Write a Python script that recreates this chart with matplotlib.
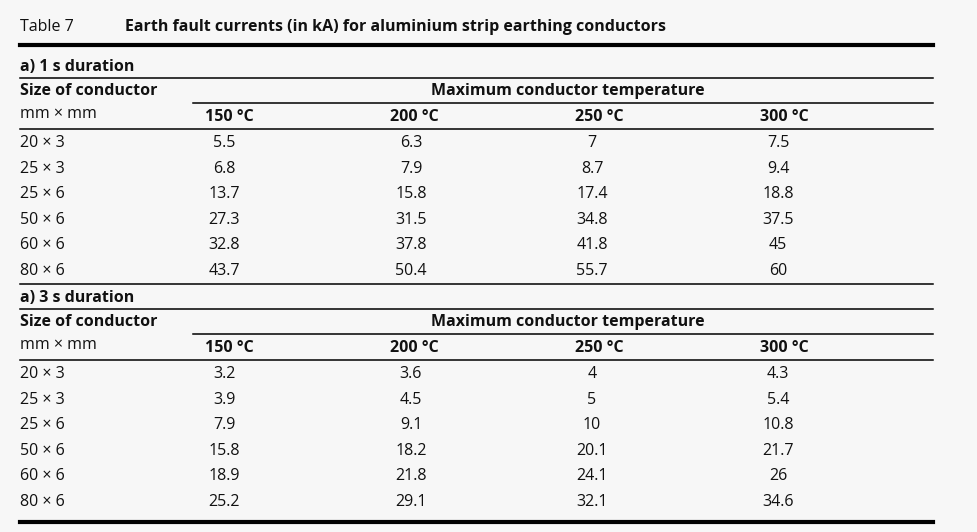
import matplotlib
matplotlib.use("Agg")
import matplotlib.pyplot as plt

sizes = ["20 × 3", "25 × 3", "25 × 6", "50 × 6", "60 × 6", "80 × 6"]
temps = ["150 °C", "200 °C", "250 °C", "300 °C"]
vals_1s = [["5.5", "6.3", "7", "7.5"],
           ["6.8", "7.9", "8.7", "9.4"],
           ["13.7", "15.8", "17.4", "18.8"],
           ["27.3", "31.5", "34.8", "37.5"],
           ["32.8", "37.8", "41.8", "45"],
           ["43.7", "50.4", "55.7", "60"]]
vals_3s = [["3.2", "3.6", "4", "4.3"],
           ["3.9", "4.5", "5", "5.4"],
           ["7.9", "9.1", "10", "10.8"],
           ["15.8", "18.2", "20.1", "21.7"],
           ["18.9", "21.8", "24.1", "26"],
           ["25.2", "29.1", "32.1", "34.6"]]

plt.rcParams['font.family'] = ['Open Sans', 'DejaVu Sans']
bg = "#f7f7f7"
fig = plt.figure(figsize=(9.78, 5.32), dpi=100, facecolor=bg)
ax = fig.add_axes([0, 0, 1, 1])
ax.set_xlim(0, 978); ax.set_ylim(532, 0); ax.axis("off")
ax.set_facecolor(bg)

fs = 11.5
L, R = 20, 933
col_x = [205, 390, 575, 760]
col_c = [224, 411, 592, 778]

ax.text(L, 27, "Table 7", fontsize=fs, va="center", color="#111")
ax.text(125, 27, "Earth fault currents (in kA) for aluminium strip earthing conductors",
        fontsize=fs, va="center", fontweight="bold", color="#111")
ax.plot([L, R], [45, 45], color="black", lw=3)

def section(y0, label, data):
    ax.text(L, y0, label, fontsize=fs, va="center", fontweight="bold", color="#111")
    ax.plot([L, R], [y0 + 11, y0 + 11], color="black", lw=1.1)
    ax.text(L, y0 + 24, "Size of conductor", fontsize=fs, va="center", fontweight="bold", color="#111")
    ax.text(568, y0 + 24, "Maximum conductor temperature", fontsize=fs, va="center",
            ha="center", fontweight="bold", color="#111")
    ax.plot([193, R], [y0 + 36, y0 + 36], color="black", lw=1.1)
    ax.text(L, y0 + 47, "mm × mm", fontsize=fs, va="center", color="#111")
    for t, x in zip(temps, col_x):
        ax.text(x, y0 + 50, t, fontsize=fs, va="center", fontweight="bold", color="#111")
    ax.plot([L, R], [y0 + 62, y0 + 62], color="black", lw=1.1)
    for i, (s, row) in enumerate(zip(sizes, data)):
        y = y0 + 76 + i * 25.6
        ax.text(L, y, s, fontsize=fs, va="center", color="#111")
        for v, xc in zip(row, col_c):
            ax.text(xc, y, v, fontsize=fs, va="center", ha="center", color="#111")

section(67, "a) 1 s duration", vals_1s)
ax.plot([L, R], [284, 284], color="black", lw=1.1)
section(298, "a) 3 s duration", vals_3s)
ax.plot([L, R], [522, 522], color="black", lw=3)

fig.savefig("out.png", dpi=100, facecolor=bg)
